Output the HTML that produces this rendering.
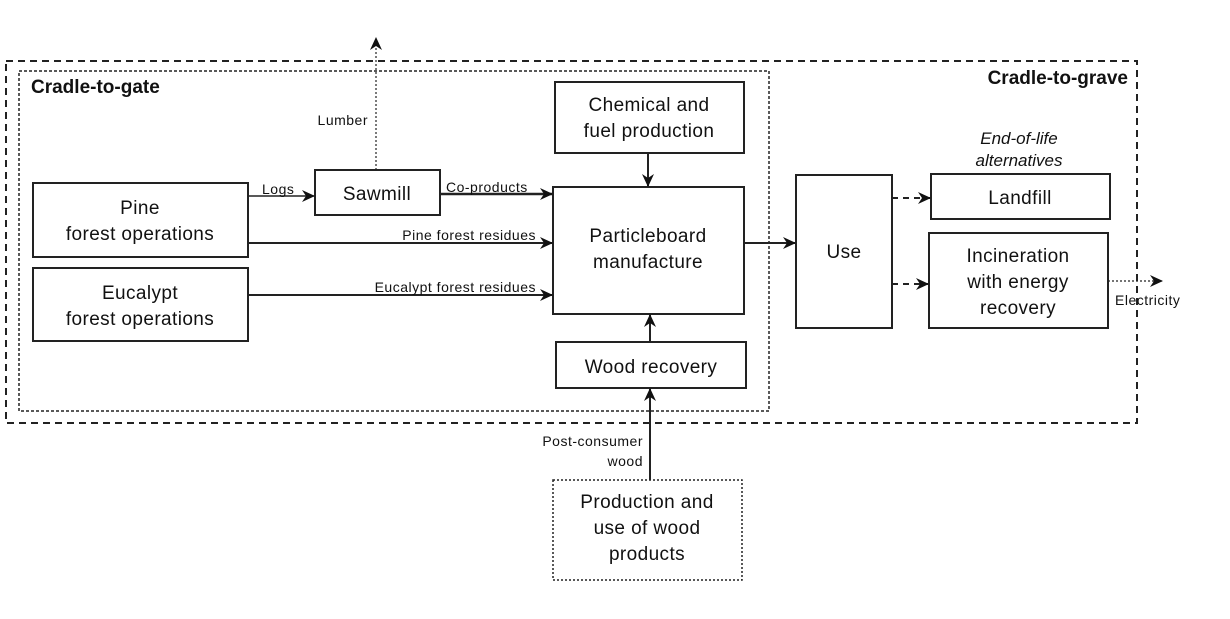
<!DOCTYPE html>
<html><head><style>
body{margin:0;background:#fff;}
svg text{font-family:"Liberation Sans",sans-serif;fill:#111;}
</style></head><body>
<svg width="1230" height="614" viewBox="0 0 1230 614" xmlns="http://www.w3.org/2000/svg">
<defs>
<marker id="a" markerWidth="14" markerHeight="14" refX="12" refY="7" orient="auto" markerUnits="userSpaceOnUse">
<path d="M0,1 L13,7 L0,13 L4,7 Z" fill="#111"/></marker>
</defs>
<g fill="none" stroke="#222">
<rect x="6" y="61" width="1131" height="362" stroke-width="2" stroke-dasharray="7,5"/>
<rect x="19" y="71" width="750" height="340" stroke-width="1.5" stroke-dasharray="3,2"/>
<g stroke-width="2">
<rect x="33" y="183" width="215" height="74"/>
<rect x="33" y="268" width="215" height="73"/>
<rect x="315" y="170" width="125" height="45"/>
<rect x="555" y="82" width="189" height="71"/>
<rect x="553" y="187" width="191" height="127"/>
<rect x="556" y="342" width="190" height="46"/>
<rect x="796" y="175" width="96" height="153"/>
<rect x="931" y="174" width="179" height="45"/>
<rect x="929" y="233" width="179" height="95"/>
</g>
<rect x="553" y="480" width="189" height="100" stroke-width="1.5" stroke-dasharray="2,2"/>
<g stroke-width="2" marker-end="url(#a)">
<line x1="248" y1="196" x2="314" y2="196" stroke-width="1.5"/>
<line x1="440" y1="194" x2="552" y2="194" stroke-width="2.5"/>
<line x1="248" y1="243" x2="552" y2="243"/>
<line x1="248" y1="295" x2="552" y2="295"/>
<line x1="648" y1="153" x2="648" y2="186"/>
<line x1="650" y1="342" x2="650" y2="315"/>
<line x1="650" y1="480" x2="650" y2="389"/>
<line x1="744" y1="243" x2="795" y2="243"/>
<line x1="892" y1="198" x2="930" y2="198" stroke-dasharray="6,5"/>
<line x1="892" y1="284" x2="928" y2="284" stroke-dasharray="6,5"/>
<line x1="376" y1="170" x2="376" y2="38" stroke-width="1.2" stroke-dasharray="2,2"/>
<line x1="1108" y1="281" x2="1162" y2="281" stroke-width="1.2" stroke-dasharray="2,2"/>
</g>
</g>
<g font-size="19" text-anchor="middle" letter-spacing="0.4">
<text x="140" y="214">Pine</text>
<text x="140" y="240">forest operations</text>
<text x="140" y="299">Eucalypt</text>
<text x="140" y="325">forest operations</text>
<text x="377" y="200">Sawmill</text>
<text x="649" y="111">Chemical and</text>
<text x="649" y="137">fuel production</text>
<text x="648" y="242">Particleboard</text>
<text x="648" y="268">manufacture</text>
<text x="651" y="373">Wood recovery</text>
<text x="844" y="258">Use</text>
<text x="1020" y="204">Landfill</text>
<text x="1018" y="262">Incineration</text>
<text x="1018" y="288">with energy</text>
<text x="1018" y="314">recovery</text>
<text x="647" y="508">Production and</text>
<text x="647" y="534">use of wood</text>
<text x="647" y="560">products</text>
</g>
<g font-size="17" font-style="italic" text-anchor="middle">
<text x="1019" y="144">End-of-life</text>
<text x="1019" y="166">alternatives</text>
</g>
<g font-size="19" font-weight="bold">
<text x="31" y="93">Cradle-to-gate</text>
<text x="1128" y="84" text-anchor="end">Cradle-to-grave</text>
</g>
<g font-size="14" letter-spacing="0.5">
<text x="262" y="194">Logs</text>
<text x="446" y="192">Co-products</text>
<text x="536" y="240" text-anchor="end">Pine forest residues</text>
<text x="536" y="292" text-anchor="end">Eucalypt forest residues</text>
<text x="368" y="125" text-anchor="end">Lumber</text>
<text x="1115" y="305">Electricity</text>
<text x="643" y="446" text-anchor="end">Post-consumer</text>
<text x="643" y="466" text-anchor="end">wood</text>
</g>
</svg>
</body></html>
